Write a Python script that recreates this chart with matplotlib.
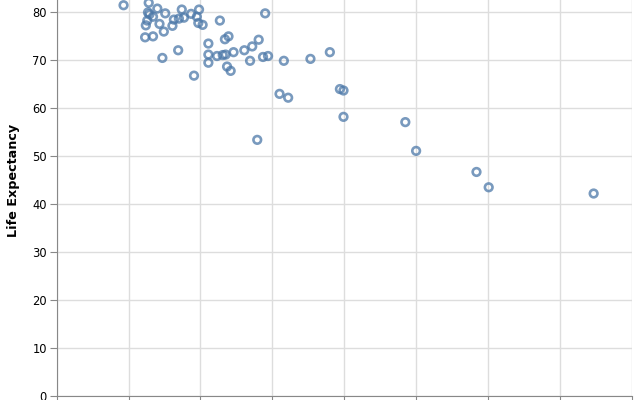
# Scatter of life expectancy against fertility (cropped view)

import matplotlib.pyplot as plt

fertility = [
    0.93, 1.28, 1.40, 1.27, 1.29, 1.34, 1.24, 1.26, 1.43, 1.49,
    1.23, 1.34, 1.51, 1.61, 1.63, 1.74, 1.70, 1.77, 1.87, 1.98,
    1.95, 1.97, 2.03, 1.47, 1.69, 1.91, 2.27, 2.11, 2.11, 2.11,
    2.23, 2.31, 2.35, 2.34, 2.39, 2.37, 2.42, 2.46, 2.61, 2.69,
    2.72, 2.81, 2.79, 2.87, 2.94, 2.90, 3.10, 3.16, 3.22, 3.53,
    3.80, 3.94, 3.99, 3.99, 4.85, 5.00, 5.84, 6.01, 7.47,
]
life_expectancy = [
    81.5, 82.0, 80.8, 80.0, 79.6, 79.1, 77.3, 78.3, 77.6, 76.0,
    74.8, 75.0, 79.8, 77.2, 78.5, 80.6, 78.7, 78.9, 79.7, 80.6,
    79.1, 77.8, 77.4, 70.5, 72.1, 66.8, 78.3, 73.5, 71.2, 69.5,
    70.9, 71.1, 71.2, 74.4, 75.0, 68.7, 67.8, 71.7, 72.1, 69.9,
    72.9, 74.3, 53.4, 70.7, 70.9, 79.8, 63.0, 69.9, 62.2, 70.3,
    71.7, 64.0, 63.7, 58.2, 57.1, 51.1, 46.7, 43.5, 42.2,
]
x_ticks = list(range(0, 9))
y_ticks = list(range(0, 100, 10))

fig = plt.figure(figsize=(6.4, 4), dpi=100)
# axes run past the top/bottom edge like the cropped reference
ax = fig.add_axes([0.0886, 0.01075, 0.8985, 1.078])

ax.scatter(fertility, life_expectancy, s=30, facecolors="none",
           edgecolors="#4c78a8", linewidths=1.9, alpha=0.75, zorder=3)

ax.set_xlim(0, 8)
ax.set_ylim(0, 90)
ax.set_xticks(x_ticks)
ax.set_yticks(y_ticks)
ax.grid(True, color="#dddddd", linewidth=1)
ax.set_axisbelow(True)

for side in ["top", "right"]:
    ax.spines[side].set_visible(False)
for side in ["left", "bottom"]:
    ax.spines[side].set_color("#888888")

ax.tick_params(axis="both", length=5, color="#888888", labelsize=8.3,
               labelcolor="#000000", pad=2)
# x labels sit below the cropped edge in the reference
ax.tick_params(axis="x", labelbottom=False)
ax.set_ylabel("Life Expectancy", fontsize=9.2, fontweight="bold", labelpad=9)

fig.savefig("out.png")
